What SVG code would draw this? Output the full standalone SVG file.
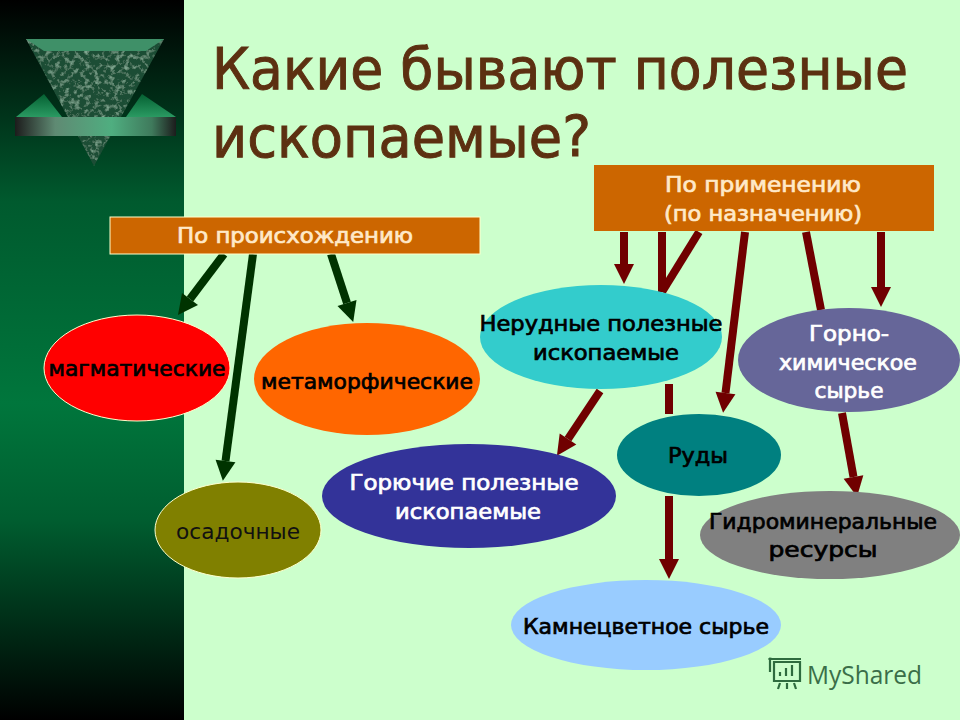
<svg xmlns="http://www.w3.org/2000/svg" width="960" height="720" viewBox="0 0 960 720">
<defs>
<linearGradient id="panel" x1="0" y1="0" x2="0" y2="1"><stop offset="0" stop-color="#000"/><stop offset="0.28" stop-color="#005a2e"/><stop offset="0.56" stop-color="#00763c"/><stop offset="0.72" stop-color="#005e30"/><stop offset="1" stop-color="#000"/></linearGradient>
<linearGradient id="band" x1="0" y1="0" x2="1" y2="0"><stop offset="0" stop-color="#1c1c1c"/><stop offset="0.25" stop-color="#5f8a73"/><stop offset="0.6" stop-color="#4fae80"/><stop offset="0.85" stop-color="#3f7a5c"/><stop offset="1" stop-color="#1c1c1c"/></linearGradient>
<linearGradient id="wing" x1="0" y1="0" x2="0" y2="1"><stop offset="0" stop-color="#056032"/><stop offset="1" stop-color="#2a9a62"/></linearGradient>
<filter id="marble" x="0" y="0" width="1" height="1"><feTurbulence type="fractalNoise" baseFrequency="0.2" numOctaves="4" seed="7"/><feColorMatrix values="0 0 0 0 .36  0 0 0 0 .62  0 0 0 0 .46  1.6 0 0 0 -.78"/><feComposite in2="SourceGraphic" operator="in" result="n"/><feMerge><feMergeNode in="SourceGraphic"/><feMergeNode in="n"/></feMerge></filter>
<marker id="gh" markerUnits="userSpaceOnUse" markerWidth="22" markerHeight="22" refX="0" refY="10" orient="auto" overflow="visible"><path d="M0 0L20 10L0 20Z" fill="#003300"/></marker>
<marker id="rh" markerUnits="userSpaceOnUse" markerWidth="22" markerHeight="22" refX="0" refY="10" orient="auto" overflow="visible"><path d="M0 0L20 10L0 20Z" fill="#700000"/></marker>
</defs>
<style>
.t{font-family:"DejaVu Sans",sans-serif;font-size:57px;fill:#5c3011;stroke:#5c3011;stroke-width:1px}
.l{font-family:"DejaVu Sans",sans-serif;font-size:20.5px;text-anchor:middle;stroke-width:.7px}
.b{fill:#000;stroke:#000}
.w{fill:#fff;stroke:#fff}
.c{fill:#ffe9c8;stroke:#ffe9c8}
.g{stroke:#003300;stroke-width:8;fill:none}
.r{stroke:#700000;stroke-width:8;fill:none}
.box{fill:#cc6600}
</style>
<rect width="960" height="720" fill="#ccffcc"/>
<rect width="184" height="720" fill="url(#panel)"/>
<g id="emblem">
<path d="M26 39H164L94 166Z" fill="#1c4d34" filter="url(#marble)"/>
<path d="M26 39H164L146 51H44Z" fill="#3f9068"/>
<path d="M44 94L16 117H62Z" fill="url(#wing)"/><path d="M142 94L176 117H126Z" fill="url(#wing)"/>
<rect x="15" y="117" width="161" height="19" fill="url(#band)"/>
</g>
<g id="title"><text class="t" x="212" y="89" textLength="696" lengthAdjust="spacingAndGlyphs">Какие бывают полезные</text><text class="t" x="212" y="157" textLength="379" lengthAdjust="spacingAndGlyphs">ископаемые?</text></g>
<g id="connectors">
<line class="g" x1="224" y1="254" x2="190" y2="299" marker-end="url(#gh)"/>
<line class="g" x1="253" y1="254" x2="225.5" y2="461" marker-end="url(#gh)"/>
<line class="g" x1="331" y1="254" x2="347" y2="303" marker-end="url(#gh)"/>
<line class="r" x1="624" y1="232" x2="624" y2="264" marker-end="url(#rh)"/>
<line class="r" x1="662" y1="232" x2="662" y2="292"/>
<line class="r" x1="699" y1="232" x2="662" y2="292"/>
<line class="r" x1="745" y1="232" x2="725.5" y2="393" marker-end="url(#rh)"/>
<line class="r" x1="806" y1="232" x2="821" y2="310"/>
<line class="r" x1="881" y1="232" x2="881" y2="287" marker-end="url(#rh)"/>
<line class="r" x1="669" y1="384" x2="669" y2="414"/>
<line class="r" x1="669" y1="496" x2="669" y2="559" marker-end="url(#rh)"/>
<line class="r" x1="600" y1="391" x2="568" y2="439" marker-end="url(#rh)"/>
<line class="r" x1="842" y1="413" x2="853.5" y2="477" marker-end="url(#rh)"/>
</g>
<g id="box-origin"><rect class="box" x="110" y="217" width="370" height="37" stroke="#ffffcc"/><text class="l c" x="295" y="243" textLength="236" lengthAdjust="spacingAndGlyphs">По происхождению</text></g>
<g id="box-use"><rect class="box" x="594" y="165" width="340" height="66"/><text class="l c" x="763" y="192" textLength="196" lengthAdjust="spacingAndGlyphs">По применению</text><text class="l c" x="763" y="221" textLength="198" lengthAdjust="spacingAndGlyphs">(по назначению)</text></g>
<g id="n-magm"><ellipse cx="137" cy="368" rx="93" ry="53" fill="#ff0000" stroke="#ffffcc"/><text class="l b" x="137" y="376" textLength="177" lengthAdjust="spacingAndGlyphs">магматические</text></g>
<g id="n-meta"><ellipse cx="367" cy="379" rx="113" ry="56" fill="#ff6600"/><text class="l b" x="367" y="389" textLength="212" lengthAdjust="spacingAndGlyphs">метаморфические</text></g>
<g id="n-osad"><ellipse cx="238" cy="530" rx="83" ry="48" fill="#808000" stroke="#ffffcc"/><text class="l" x="238" y="539" textLength="124" lengthAdjust="spacingAndGlyphs" fill="#111" style="stroke-width:0">осадочные</text></g>
<g id="n-gor"><ellipse cx="469" cy="496" rx="147" ry="52" fill="#333399"/><text class="l w" x="464" y="490" textLength="229" lengthAdjust="spacingAndGlyphs">Горючие полезные</text><text class="l w" x="468" y="519" textLength="146" lengthAdjust="spacingAndGlyphs">ископаемые</text></g>
<g id="n-ner"><ellipse cx="601" cy="337" rx="121" ry="52" fill="#33cccc"/><text class="l b" x="601" y="331" textLength="243" lengthAdjust="spacingAndGlyphs">Нерудные полезные</text><text class="l b" x="606" y="360" textLength="146" lengthAdjust="spacingAndGlyphs">ископаемые</text></g>
<g id="n-rud"><ellipse cx="699" cy="455" rx="82" ry="41" fill="#008080"/><text class="l b" x="698" y="463" textLength="60" lengthAdjust="spacingAndGlyphs">Руды</text></g>
<g id="n-him"><ellipse cx="849" cy="360" rx="111" ry="52" fill="#666699"/><text class="l w" x="849" y="341" textLength="80" lengthAdjust="spacingAndGlyphs">Горно-</text><text class="l w" x="848" y="370" textLength="138" lengthAdjust="spacingAndGlyphs">химическое</text><text class="l w" x="849" y="398" textLength="69" lengthAdjust="spacingAndGlyphs">сырье</text></g>
<g id="n-gid"><ellipse cx="830" cy="535" rx="130" ry="44" fill="#808080"/><text class="l b" x="823" y="529" textLength="228" lengthAdjust="spacingAndGlyphs">Гидроминеральные</text><text class="l b" x="823" y="557" textLength="109" lengthAdjust="spacingAndGlyphs">ресурсы</text></g>
<g id="n-kam"><ellipse cx="646" cy="625" rx="135" ry="45" fill="#99ccff"/><text class="l b" x="646" y="634" textLength="246" lengthAdjust="spacingAndGlyphs">Камнецветное сырье</text></g>
<g id="watermark">
<path d="M774 662H800V681H774ZM770 660Q768 658 772 659H801M770 660V672M780 676V672M786 676V668M792 676V665M780 683L778 689M787 683V689M794 683L796 689" fill="none" stroke="#2e6b3e" stroke-width="2.2"/>
<text x="807" y="684" font-family="'Open Sans',sans-serif" font-size="25" fill="#3a6e48" textLength="115" lengthAdjust="spacingAndGlyphs">MyShared</text>
</g>
</svg>
